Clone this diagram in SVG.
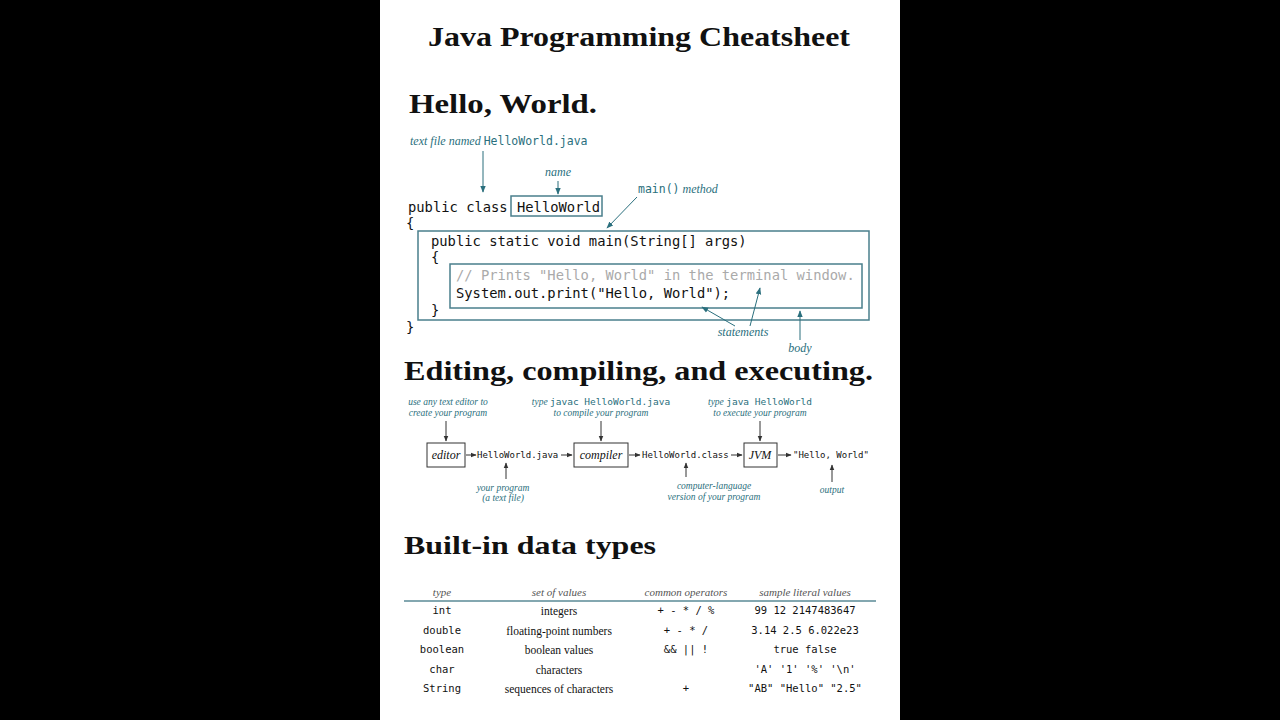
<svg xmlns="http://www.w3.org/2000/svg" width="1280" height="720" viewBox="0 0 1280 720">
<style>
.h{font-family:"Liberation Serif",serif;font-weight:bold;fill:#111}
.m{font-family:"DejaVu Sans Mono","Liberation Mono",monospace;fill:#111}
.lab{font-family:"Liberation Serif",serif;font-style:italic;fill:#2a6f7d}
.labm{font-family:"DejaVu Sans Mono",monospace;font-style:normal;fill:#2a6f7d}
.s{font-family:"Liberation Serif",serif;fill:#111}
.box{fill:none;stroke:#4a7f8c;stroke-width:1.5}
.bk{fill:none;stroke:#333;stroke-width:1}
.ar{stroke:#2a6f7d;stroke-width:1;fill:none;marker-end:url(#a)}
.ak{stroke:#333;stroke-width:1;fill:none;marker-end:url(#k)}
</style>
<defs>
<marker id="a" viewBox="0 0 10 10" refX="9" refY="5" markerWidth="7" markerHeight="7" orient="auto"><path d="M0,1 L10,5 L0,9 z" fill="#2a6f7d"/></marker>
<marker id="k" viewBox="0 0 10 10" refX="9" refY="5" markerWidth="6" markerHeight="6" orient="auto"><path d="M0,1 L10,5 L0,9 z" fill="#333"/></marker>
</defs>
<rect width="1280" height="720" fill="#000"/>
<rect x="380" y="0" width="520" height="720" fill="#fff"/>
<text class="h" x="428" y="46" font-size="27" textLength="422" lengthAdjust="spacingAndGlyphs">Java Programming Cheatsheet</text>
<text class="h" x="409" y="113" font-size="28" textLength="188" lengthAdjust="spacingAndGlyphs">Hello, World.</text>

<g id="code">
<text class="lab" x="410" y="145" font-size="12">text file named <tspan class="labm" font-size="11.5">HelloWorld.java</tspan></text>
<text class="lab" x="558" y="176" font-size="12" text-anchor="middle">name</text>
<text class="lab" x="638" y="193" font-size="12"><tspan class="labm" font-size="11.5">main()</tspan> method</text>
<text class="m" x="408" y="212" font-size="13.8">public class</text>
<rect class="box" x="511" y="196" width="91" height="20"/>
<text class="m" x="517" y="212" font-size="13.8">HelloWorld</text>
<text class="m" x="406" y="228" font-size="13.8">{</text>
<rect class="box" x="418" y="231" width="451" height="89"/>
<text class="m" x="431" y="246" font-size="13.8">public static void main(String[] args)</text>
<text class="m" x="431" y="262" font-size="13.8">{</text>
<rect class="box" x="450" y="264" width="412" height="44"/>
<text class="m" x="456" y="280" font-size="13.8" style="fill:#aaa">// Prints "Hello, World" in the terminal window.</text>
<text class="m" x="456" y="298" font-size="13.8">System.out.print("Hello, World");</text>
<text class="m" x="431" y="315" font-size="13.8">}</text>
<text class="m" x="406" y="332" font-size="13.8">}</text>
<text class="lab" x="743" y="336" font-size="12" text-anchor="middle">statements</text>
<text class="lab" x="800" y="352" font-size="12" text-anchor="middle">body</text>
</g>

<text class="h" x="404" y="380" font-size="28" textLength="469" lengthAdjust="spacingAndGlyphs">Editing, compiling, and executing.</text>

<g id="editor"><rect class="bk" x="427" y="443" width="38" height="24"/><text class="s" x="446" y="459" font-size="12" font-style="italic" text-anchor="middle">editor</text></g>
<g id="compiler"><rect class="bk" x="574" y="443" width="54" height="24"/><text class="s" x="601" y="459" font-size="12" font-style="italic" text-anchor="middle">compiler</text></g>
<g id="jvm"><rect class="bk" x="744" y="443" width="33" height="24"/><text class="s" x="760" y="459" font-size="12" font-style="italic" text-anchor="middle">JVM</text></g>
<text class="m" x="477" y="458" font-size="9">HelloWorld.java</text>
<text class="m" x="642" y="458" font-size="9">HelloWorld.class</text>
<text class="m" x="793" y="458" font-size="9">"Hello, World"</text>
<g class="lab" font-size="9.5" text-anchor="middle">
<text x="448" y="405">use any text editor to</text><text x="448" y="416">create your program</text>
<text x="601" y="405">type <tspan class="labm">javac HelloWorld.java</tspan></text><text x="601" y="416">to compile your program</text>
<text x="760" y="405">type <tspan class="labm">java HelloWorld</tspan></text><text x="760" y="416">to execute your program</text>
<text x="503" y="491">your program</text><text x="503" y="501">(a text file)</text>
<text x="714" y="489">computer-language</text><text x="714" y="500">version of your program</text>
<text x="832" y="493">output</text>
</g>

<text class="h" x="404" y="554" font-size="26" textLength="252" lengthAdjust="spacingAndGlyphs">Built-in data types</text>
<g id="table">
<g class="lab" font-size="11" text-anchor="middle" style="fill:#555">
<text x="442" y="596">type</text><text x="559" y="596">set of values</text><text x="686" y="596">common operators</text><text x="805" y="596">sample literal values</text>
</g>
<line x1="404" y1="601" x2="876" y2="601" stroke="#5a8a96" stroke-width="1.5"/>
<g class="m" font-size="10.5" text-anchor="middle">
<text x="442" y="614">int</text><text x="442" y="634">double</text><text x="442" y="653">boolean</text><text x="442" y="673">char</text><text x="442" y="692">String</text>
<text x="686" y="614">+ - * / %</text><text x="686" y="634">+ - * /</text><text x="686" y="653">&amp;&amp; || !</text><text x="686" y="692">+</text>
<text x="805" y="614">99 12 2147483647</text><text x="805" y="634">3.14 2.5 6.022e23</text><text x="805" y="653">true false</text><text x="805" y="673">'A' '1' '%' '\n'</text><text x="805" y="692">"AB" "Hello" "2.5"</text>
</g>
<g class="s" font-size="11.5" text-anchor="middle">
<text x="559" y="615">integers</text><text x="559" y="635">floating-point numbers</text><text x="559" y="654">boolean values</text><text x="559" y="674">characters</text><text x="559" y="693">sequences of characters</text>
</g>
</g>

<g id="connectors">
<line class="ar" x1="483" y1="151" x2="483" y2="192"/>
<line class="ar" x1="558" y1="181" x2="558" y2="194"/>
<line class="ar" x1="637" y1="197" x2="607" y2="228"/>
<line class="ar" x1="735" y1="326" x2="702" y2="307"/>
<line class="ar" x1="750" y1="326" x2="760" y2="288"/>
<line class="ar" x1="800" y1="340" x2="800" y2="311"/>
<line class="ak" x1="446" y1="421" x2="446" y2="441"/>
<line class="ak" x1="601" y1="421" x2="601" y2="441"/>
<line class="ak" x1="760" y1="421" x2="760" y2="441"/>
<line class="ak" x1="466" y1="455" x2="476" y2="455"/>
<line class="ak" x1="561" y1="455" x2="572" y2="455"/>
<line class="ak" x1="629" y1="455" x2="640" y2="455"/>
<line class="ak" x1="731" y1="455" x2="742" y2="455"/>
<line class="ak" x1="778" y1="455" x2="791" y2="455"/>
<line class="ak" x1="506" y1="479" x2="506" y2="463"/>
<line class="ak" x1="686" y1="477" x2="686" y2="463"/>
<line class="ak" x1="832" y1="482" x2="832" y2="465"/>
</g>
</svg>
